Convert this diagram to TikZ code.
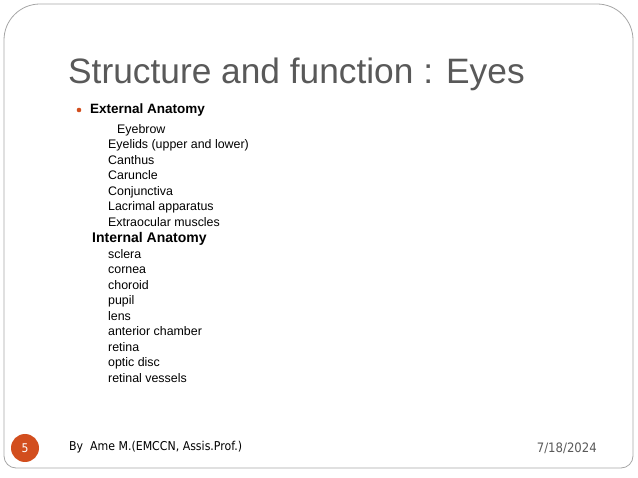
\documentclass[tikz,border=0pt]{standalone}
\usepackage{fontspec}
\setmainfont{Liberation Sans}
\newfontfamily\footfont{DejaVu Sans Condensed}
\definecolor{slidegray}{HTML}{595959}
\definecolor{dotorange}{HTML}{D24E1E}
\tikzset{
  item/.style={anchor=west, inner sep=0pt, text height=1.5ex, text depth=.3ex, font=\fontsize{12.4}{14}\selectfont},
  head/.style={anchor=west, inner sep=0pt, text height=1.5ex, text depth=.3ex, font=\fontsize{13.5}{15}\selectfont\bfseries},
}
\begin{document}
\begin{tikzpicture}[x=1pt,y=-1pt]
  \useasboundingbox (0,0) rectangle (638,478);
  % slide frame
  \draw[gray!70, line width=0.8pt] (4,240) [rounded corners=36pt] -- (4,4) -- (633,4)
    [rounded corners=12pt] -- (633,468) -- (4,468) [sharp corners] -- cycle;
  \node[anchor=west, inner sep=0pt, text=slidegray, font=\fontsize{35.3}{40}\selectfont] (title) at (68,74) {Structure and function : Eyes};
  \fill[dotorange] (79,110) circle[radius=2.3];
  \node[head] (ext) at (90,110) {External Anatomy};
  \node[item] at (117,130) {Eyebrow};
  \foreach \t [count=\i] in {Eyelids (upper and lower),Canthus,Caruncle,Conjunctiva,Lacrimal apparatus,Extraocular muscles}
    \node[item] at (108,130+15.5*\i) {\t};
  \node[head, font=\fontsize{14}{16}\selectfont\bfseries] (int) at (92,239) {Internal Anatomy};
  \foreach \t [count=\i] in {sclera,cornea,choroid,pupil,lens,anterior chamber,retina,optic disc,retinal vessels}
    \node[item] at (108,239.5+15.5*\i) {\t};
  % footer
  \fill[dotorange] (25,448) circle[radius=14];
  \node[text=white, font=\footfont\fontsize{12}{14}\selectfont] (num) at (25,448) {5};
  \node[anchor=west, inner sep=0pt, font=\footfont\fontsize{12.2}{14}\selectfont] (by) at (69,447.5) {By\ \ Ame M.(EMCCN, Assis.Prof.)};
  \node[anchor=east, inner sep=0pt, text=slidegray, font=\footfont\fontsize{13}{15}\selectfont] (date) at (597,448.5) {7/18/2024};
\end{tikzpicture}
\end{document}
